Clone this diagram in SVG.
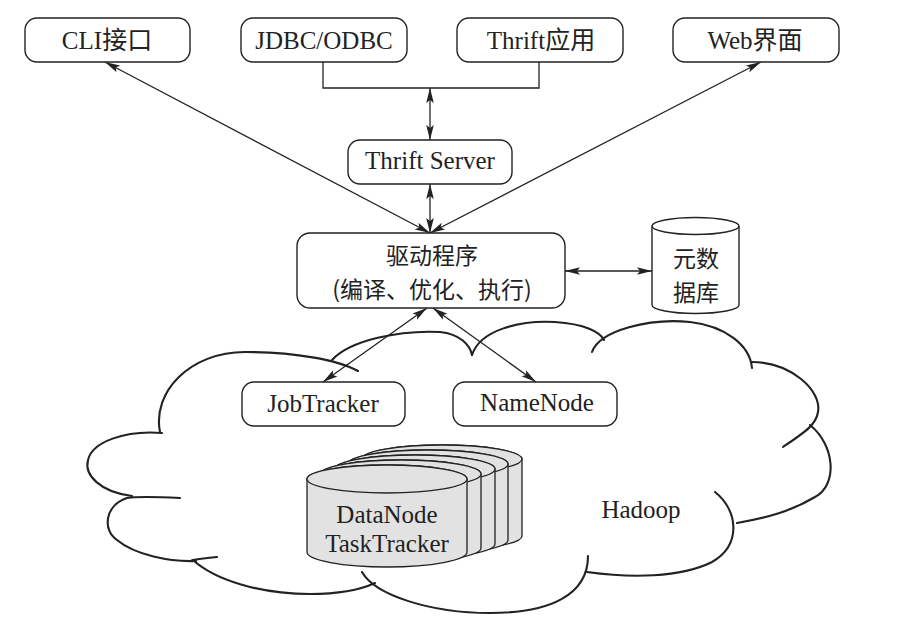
<svg xmlns="http://www.w3.org/2000/svg" width="898" height="626" viewBox="0 0 898 626">
<style>
.box{fill:#fff;stroke:#222;stroke-width:1.4}
.t{font-family:"Liberation Serif","Noto Sans CJK SC",serif;font-size:25px;fill:#222;text-anchor:middle}
.c{font-family:"Noto Sans CJK SC","Liberation Serif",sans-serif;font-size:23px;fill:#222;text-anchor:middle}
.ln{fill:none;stroke:#222;stroke-width:1.3}
.cl{fill:none;stroke:#222;stroke-width:2.1;stroke-linecap:round}
.dn{fill:#e2e2e2;stroke:#222;stroke-width:1.3}
</style>
<defs>
<marker id="ah" markerUnits="userSpaceOnUse" markerWidth="16" markerHeight="10" refX="15" refY="5" orient="auto-start-reverse">
<path d="M0,1.2 L15,5 L0,8.8 L3,5 Z" fill="#222"/>
</marker>
</defs>
<rect width="898" height="626" fill="#fff"/>

<g id="cloud">
<path class="cl" d="M160,432 C152,392 190,352 245,352 C295,352 338,360 358,371"/>
<path class="cl" d="M132,496 C100,492 84,475 88,460 C92,442 125,430 162,433"/>
<path class="cl" d="M180,498 C160,497 140,496 127,498 C105,505 102,530 117,540 C135,555 170,562 196,561"/>
<path class="cl" d="M217,557 C205,558 198,559 193,560 C215,580 260,594 310,594 C340,594 362,589 375,583"/>
<path class="cl" d="M362,572 C375,595 430,613 490,613 C550,613 588,595 588,556"/>
<path class="cl" d="M715,492 C738,510 742,545 712,562 C680,578 630,578 587,572"/>
<path class="cl" d="M810,425 C835,445 838,485 815,497 C790,512 765,518 737,523"/>
<path class="cl" d="M752,362 C790,362 822,390 818,412 C816,425 805,432 783,447"/>
<path class="cl" d="M592,352 C600,330 650,318 690,322 C725,326 750,345 752,368"/>
<path class="cl" d="M472,355 C480,330 520,320 555,322 C585,324 600,332 604,340"/>
<path class="cl" d="M332,360 C350,340 400,330 440,332 C460,334 470,345 472,355"/>
<text class="t" x="641" y="518">Hadoop</text>
</g>

<g id="connectors">
<polyline class="ln" points="323,62 323,88 539,88 539,62"/>
<line class="ln" x1="430" y1="88" x2="430" y2="140" marker-start="url(#ah)" marker-end="url(#ah)"/>
<line class="ln" x1="430" y1="184" x2="430" y2="233" marker-start="url(#ah)" marker-end="url(#ah)"/>
<line class="ln" x1="430" y1="233" x2="105" y2="62" marker-start="url(#ah)" marker-end="url(#ah)"/>
<line class="ln" x1="430" y1="233" x2="761" y2="62" marker-start="url(#ah)" marker-end="url(#ah)"/>
<line class="ln" x1="565" y1="271" x2="652" y2="271" marker-start="url(#ah)" marker-end="url(#ah)"/>
<line class="ln" x1="427" y1="308" x2="323" y2="382" marker-start="url(#ah)" marker-end="url(#ah)"/>
<line class="ln" x1="433" y1="308" x2="536" y2="382" marker-start="url(#ah)" marker-end="url(#ah)"/>
</g>

<g id="cli">
<rect class="box" x="25" y="18" width="165" height="44" rx="12"/>
<text class="t" x="107" y="49">CLI接口</text>
</g>
<g id="jdbc">
<rect class="box" x="241" y="18" width="166" height="44" rx="12"/>
<text class="t" x="324" y="49">JDBC/ODBC</text>
</g>
<g id="thriftapp">
<rect class="box" x="457" y="18" width="166" height="44" rx="12"/>
<text class="t" x="541" y="49">Thrift应用</text>
</g>
<g id="web">
<rect class="box" x="673" y="18" width="166" height="44" rx="12"/>
<text class="t" x="755" y="49">Web界面</text>
</g>
<g id="thriftserver">
<rect class="box" x="348" y="140" width="164" height="44" rx="12"/>
<text class="t" x="430" y="169">Thrift Server</text>
</g>
<g id="driver">
<rect class="box" x="297" y="233" width="268" height="75" rx="13"/>
<text class="c" x="432" y="264">驱动程序</text>
<text class="c" x="432" y="298">(编译、优化、执行)</text>
</g>
<g id="metastore">
<path class="box" d="M652,226 L652,305 A43.5,8.5 0 0 0 739,305 L739,226"/>
<ellipse class="box" cx="695.5" cy="226" rx="43.5" ry="8.5"/>
<text class="c" x="696" y="267">元数</text>
<text class="c" x="696" y="301">据库</text>
</g>
<g id="jobtracker">
<rect class="box" x="242" y="382" width="163" height="44" rx="12"/>
<text class="t" x="323" y="412">JobTracker</text>
</g>
<g id="namenode">
<rect class="box" x="453" y="382" width="164" height="44" rx="12"/>
<text class="t" x="537" y="411">NameNode</text>
</g>
<g id="datanodes">
<path class="dn" d="M362,459 L362,536 A80,14 0 0 0 522,536 L522,459 A80,14 0 0 0 362,459 Z"/>
<ellipse class="dn" cx="442" cy="459" rx="80" ry="14"/>
<path class="dn" d="M348,464 L348,540 A80,14 0 0 0 508,540 L508,464 A80,14 0 0 0 348,464 Z"/>
<ellipse class="dn" cx="428" cy="464" rx="80" ry="14"/>
<path class="dn" d="M335,469 L335,544 A80,14 0 0 0 495,544 L495,469 A80,14 0 0 0 335,469 Z"/>
<ellipse class="dn" cx="415" cy="469" rx="80" ry="14"/>
<path class="dn" d="M321,474 L321,548 A80,14 0 0 0 481,548 L481,474 A80,14 0 0 0 321,474 Z"/>
<ellipse class="dn" cx="401" cy="474" rx="80" ry="14"/>
<path class="dn" d="M307,479 L307,552 A80,15 0 0 0 467,552 L467,479 A80,14 0 0 0 307,479 Z"/>
<ellipse class="dn" cx="387" cy="479" rx="80" ry="14"/>
<text class="t" x="387" y="523">DataNode</text>
<text class="t" x="387" y="552">TaskTracker</text>
</g>
</svg>
